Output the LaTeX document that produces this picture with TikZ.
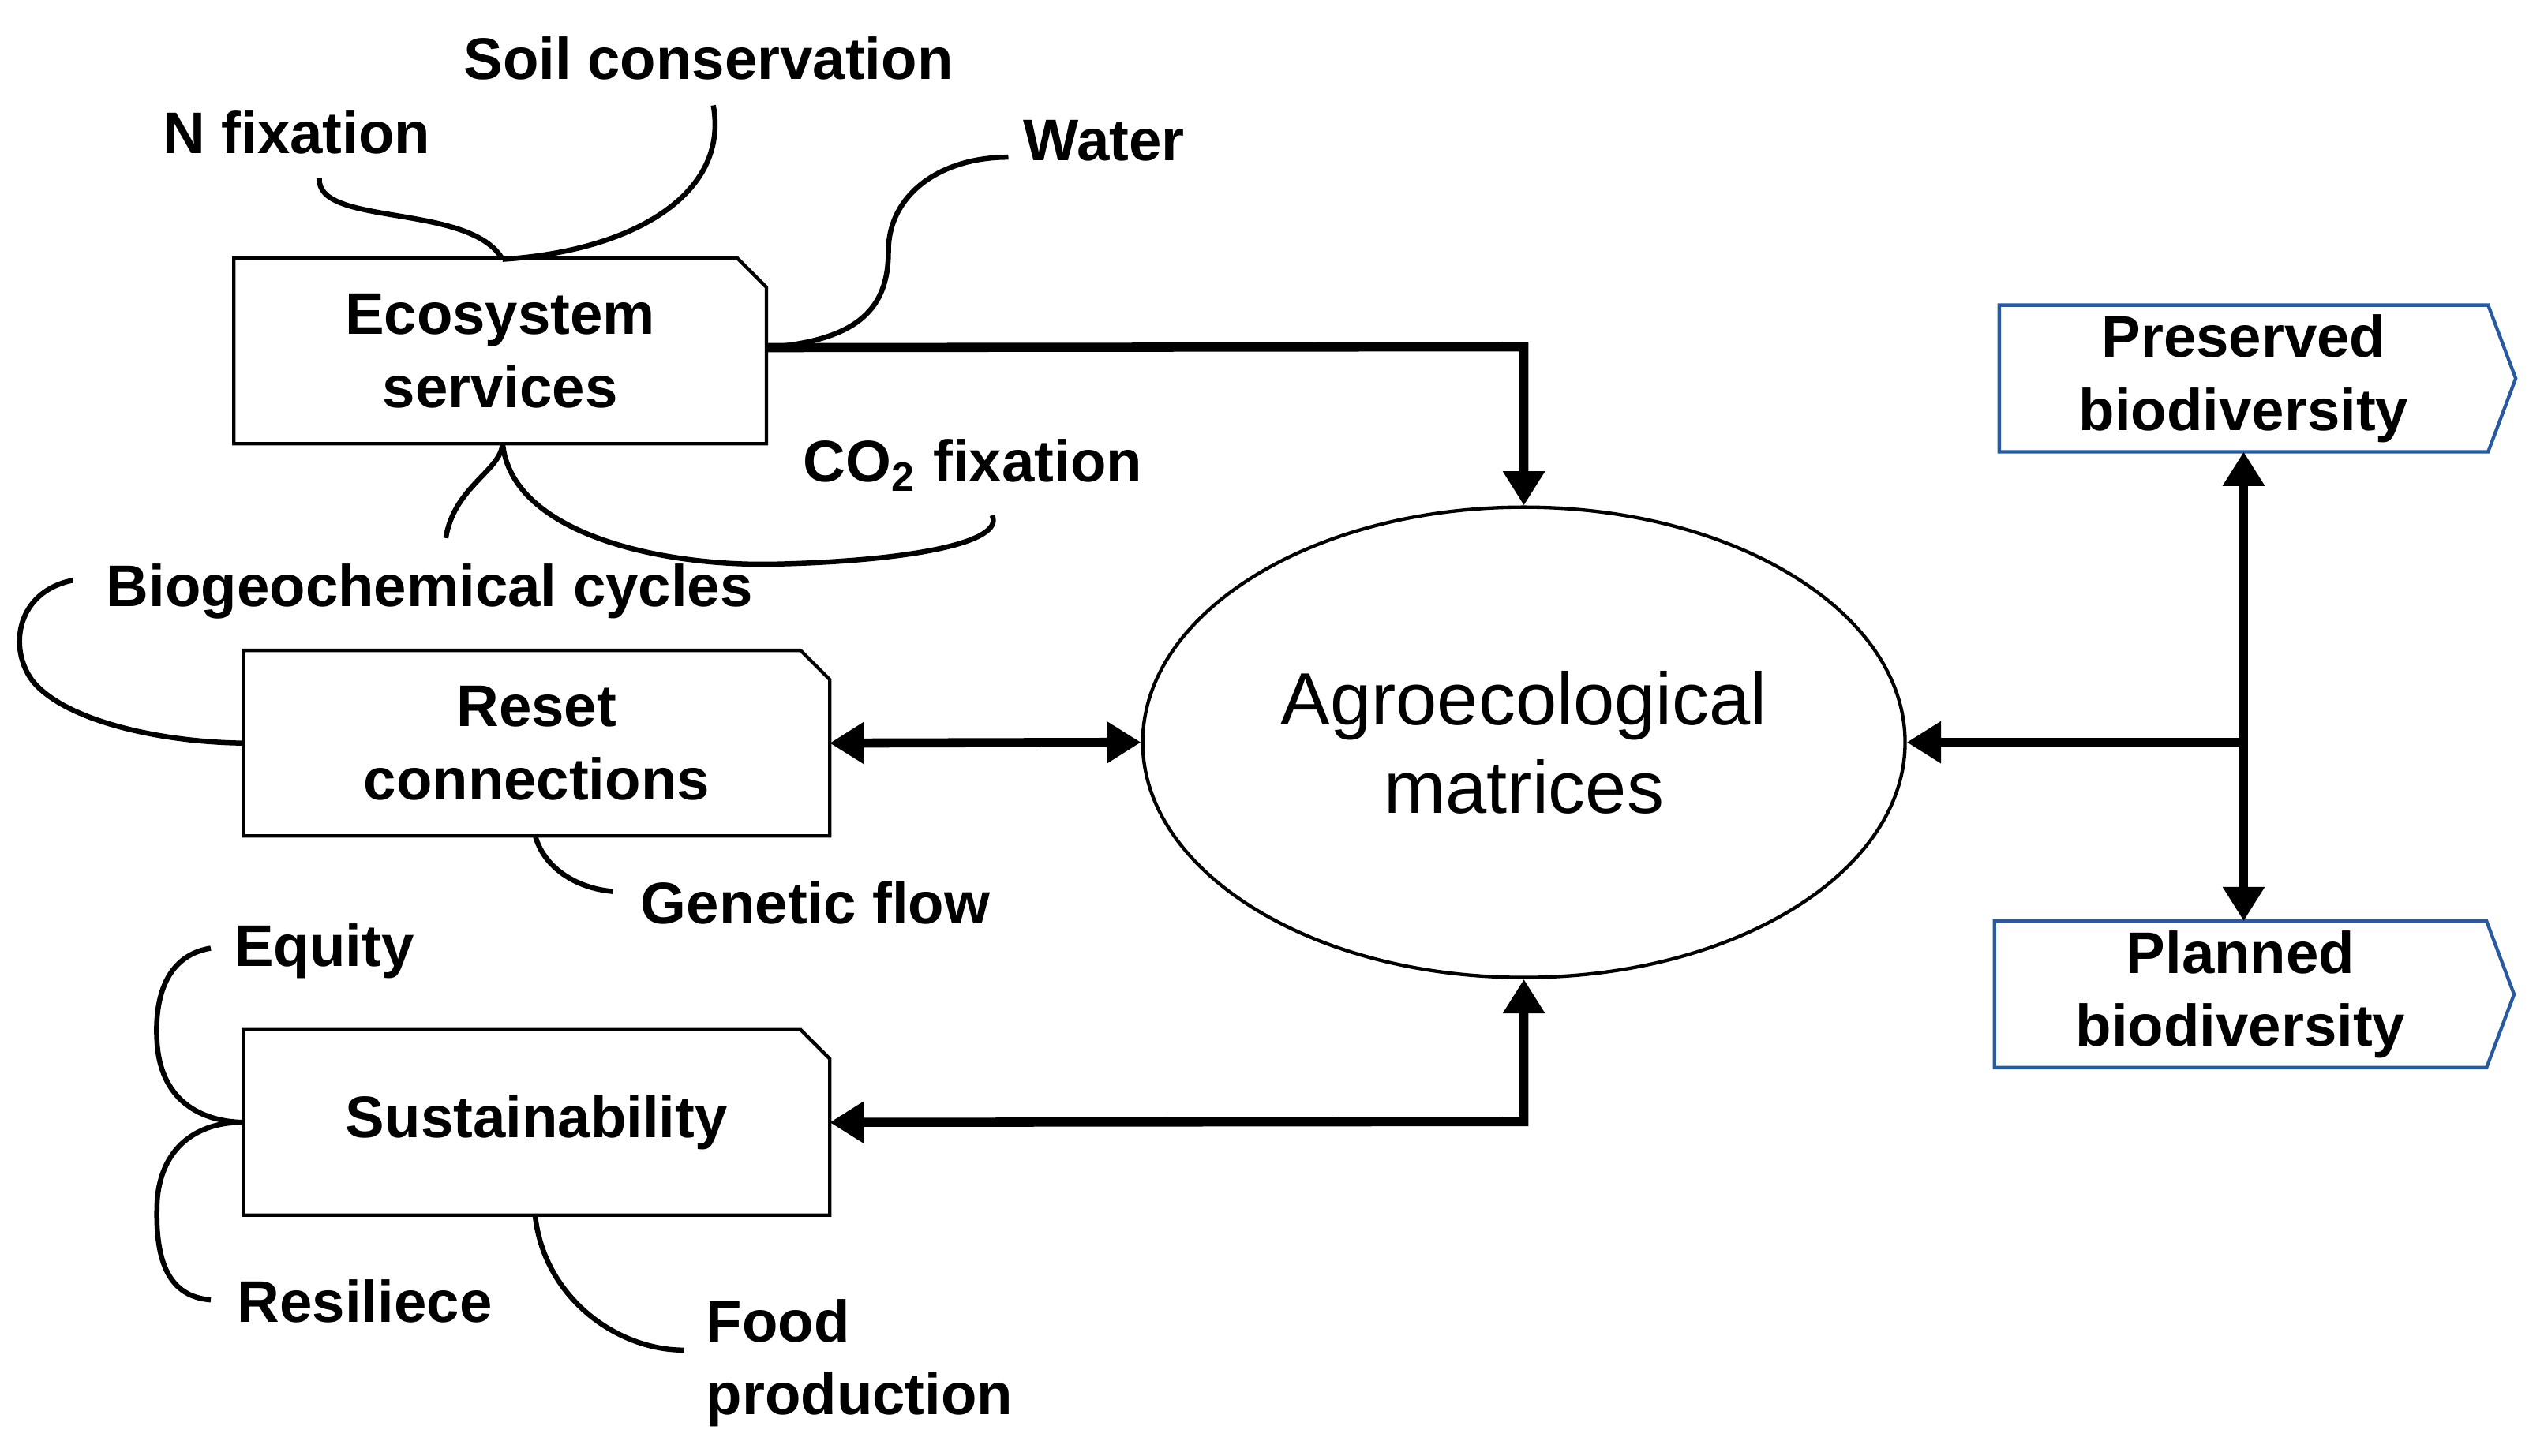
\documentclass[tikz,border=0pt]{standalone}
\usepackage{fontspec}
\setmainfont{Liberation Sans}
\usetikzlibrary{arrows.meta,shapes.geometric}
\definecolor{bblue}{RGB}{40,90,160}
\begin{document}
\begin{tikzpicture}[x=0.01cm,y=-0.01cm,
  lbl/.style={font=\fontsize{10.3}{12.8}\selectfont\bfseries,align=center,inner sep=0},
  box/.style={lbl,minimum width=#1,minimum height=1.13cm},
  thin/.style={line width=0.9pt},
  thick/.style={line width=1.6pt,-{Triangle[length=6pt,width=7pt]}},
  both/.style={line width=1.6pt,{Triangle[length=6pt,width=7pt]}-{Triangle[length=6pt,width=7pt]}},
  bd/.style={draw=bblue,line width=0.6pt}]
\useasboundingbox (0,0) rectangle (1560,898);
\newcommand{\cutbox}[1]{\draw[line width=0.6pt] (#1.south west) -- (#1.north west) -- ([xshift=-0.18cm]#1.north east) -- ([yshift=-0.18cm]#1.north east) -- (#1.south east) -- cycle;}
\node[box=3.27cm] (eco) at (308.5,216.5) {Ecosystem\\services};
\cutbox{eco}
\node[box=3.6cm] (reset) at (331,458.5) {Reset\\connections};
\cutbox{reset}
\node[box=3.6cm] (sust) at (331,692.5) {Sustainability};
\cutbox{sust}
\node[draw,line width=0.6pt,ellipse,minimum width=4.7cm,minimum height=2.9cm,inner sep=0,font=\fontsize{13}{15.5}\selectfont,align=center] (agro) at (940,458) {Agroecological\\matrices};
\node[lbl,minimum width=3cm,minimum height=0.89cm] (pres) at (1384,233.5) {Preserved\\biodiversity};
\draw[bd] (pres.north west) -- (pres.north east) -- ([xshift=0.17cm]pres.east) -- (pres.south east) -- (pres.south west) -- cycle;
\node[lbl,minimum width=3.02cm,minimum height=0.89cm] (plan) at (1382,613.5) {Planned\\biodiversity};
\draw[bd] (plan.north west) -- (plan.north east) -- ([xshift=0.17cm]plan.east) -- (plan.south east) -- (plan.south west) -- cycle;
% labels
\node[lbl] (nfix) at (183,82) {N fixation};
\node[lbl] (soil) at (437,36) {Soil conservation};
\node[lbl] (water) at (681,87) {Water};
\node[lbl] (co2) at (600,287) {CO$_\mathbf{2}$ fixation};
\node[lbl] (bio) at (265,365) {Biogeochemical cycles};
\node[lbl] (gen) at (503,557) {Genetic flow};
\node[lbl] (eq) at (200,587) {Equity};
\node[lbl] (res) at (225,803) {Resiliece};
\node[lbl,align=left,anchor=west] (food) at (435,841) {Food\\production};
% main arrows
\coordinate (c1) at (940,214);
\draw[thick] ([yshift=0.02cm]eco.east) -- (c1) -- (agro.north);
\draw[both] (reset.east) -- (agro.west);
\coordinate (c2) at (940,692);
\draw[both] (sust.east) -- (c2) -- (agro.south);
\coordinate (c3) at (1384,458);
\draw[thick] (c3) -- (agro.east);
\draw[both] (pres.south) -- (pres.south |- plan.north);
% curves
\coordinate (et) at (310,160);
\draw[thin] (197,110) .. controls (195,140) and (290,125) .. (et);
\draw[thin] (440,65) .. controls (450,120) and (390,155) .. (et);
\draw[thin] ([yshift=0.02cm]eco.east) .. controls (530,210) and (548,190) .. (548,155) .. controls (548,120) and (580,97) .. (622,97);
\coordinate (eb) at (310,273);
\draw[thin] (eb) .. controls (310,290) and (280,300) .. (275,332);
\draw[thin] (eb) .. controls (315,330) and (410,350) .. (480,348) .. controls (560,346) and (620,335) .. (612,318);
\draw[thin] (45,358) .. controls (10,365) and (5,400) .. (20,420) .. controls (40,445) and (100,458) .. (reset.west);
\draw[thin] (330,515) .. controls (335,535) and (355,548) .. (378,550);
\draw[thin] (130,585) .. controls (100,590) and (95,620) .. (97,645) .. controls (100,680) and (125,692) .. (sust.west);
\draw[thin] (sust.west) .. controls (125,692) and (100,705) .. (97,740) .. controls (95,780) and (105,800) .. (130,802);
\draw[thin] (330,749) .. controls (335,800) and (380,833) .. (422,833);
\end{tikzpicture}
\end{document}
